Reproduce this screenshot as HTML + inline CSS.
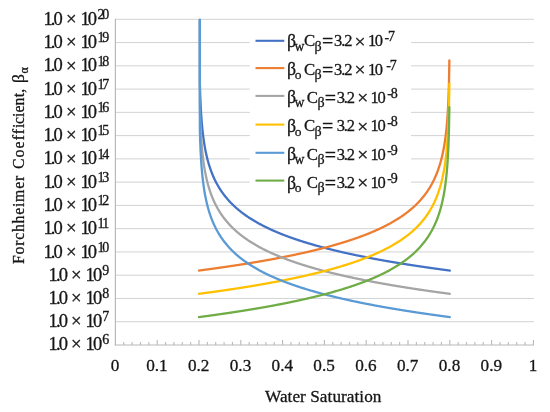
<!DOCTYPE html>
<html lang="en"><head><meta charset="utf-8"><title>Forchheimer Coefficient vs Water Saturation</title>
<style>html,body{margin:0;padding:0;background:#fff;}body{width:550px;height:412px;overflow:hidden;}svg{display:block;filter:blur(0.35px);}text{font-family:"Liberation Serif", "DejaVu Serif", serif;fill:#161616;stroke:#161616;stroke-width:0.3px;}.t{stroke-width:0.3px;}</style>
</head><body>
<svg width="550" height="412" viewBox="0 0 550 412">
<rect width="550" height="412" fill="#ffffff"/>
<g stroke="#d3d3d3" stroke-width="1" fill="none">
<line x1="115.40" y1="19.30" x2="533.90" y2="19.30"/>
<line x1="115.40" y1="42.56" x2="533.90" y2="42.56"/>
<line x1="115.40" y1="65.83" x2="533.90" y2="65.83"/>
<line x1="115.40" y1="89.09" x2="533.90" y2="89.09"/>
<line x1="115.40" y1="112.36" x2="533.90" y2="112.36"/>
<line x1="115.40" y1="135.62" x2="533.90" y2="135.62"/>
<line x1="115.40" y1="158.88" x2="533.90" y2="158.88"/>
<line x1="115.40" y1="182.15" x2="533.90" y2="182.15"/>
<line x1="115.40" y1="205.41" x2="533.90" y2="205.41"/>
<line x1="115.40" y1="228.68" x2="533.90" y2="228.68"/>
<line x1="115.40" y1="251.94" x2="533.90" y2="251.94"/>
<line x1="115.40" y1="275.20" x2="533.90" y2="275.20"/>
<line x1="115.40" y1="298.47" x2="533.90" y2="298.47"/>
<line x1="115.40" y1="321.73" x2="533.90" y2="321.73"/>
</g>
<g stroke="#b9b9b9" stroke-width="1.2" fill="none">
<line x1="115.40" y1="18.80" x2="115.40" y2="345.60"/>
<line x1="114.80" y1="345.00" x2="534.00" y2="345.00"/>
<path stroke-width="1.1" d="M123.76 345.00v-3.0M132.12 345.00v-3.0M140.48 345.00v-3.0M148.84 345.00v-3.0M157.20 345.00v-5.1M165.56 345.00v-3.0M173.92 345.00v-3.0M182.28 345.00v-3.0M190.64 345.00v-3.0M199.00 345.00v-5.1M207.36 345.00v-3.0M215.72 345.00v-3.0M224.08 345.00v-3.0M232.44 345.00v-3.0M240.80 345.00v-5.1M249.16 345.00v-3.0M257.52 345.00v-3.0M265.88 345.00v-3.0M274.24 345.00v-3.0M282.60 345.00v-5.1M290.96 345.00v-3.0M299.32 345.00v-3.0M307.68 345.00v-3.0M316.04 345.00v-3.0M324.40 345.00v-5.1M332.76 345.00v-3.0M341.12 345.00v-3.0M349.48 345.00v-3.0M357.84 345.00v-3.0M366.20 345.00v-5.1M374.56 345.00v-3.0M382.92 345.00v-3.0M391.28 345.00v-3.0M399.64 345.00v-3.0M408.00 345.00v-5.1M416.36 345.00v-3.0M424.72 345.00v-3.0M433.08 345.00v-3.0M441.44 345.00v-3.0M449.80 345.00v-5.1M458.16 345.00v-3.0M466.52 345.00v-3.0M474.88 345.00v-3.0M483.24 345.00v-3.0M491.60 345.00v-5.1M499.96 345.00v-3.0M508.32 345.00v-3.0M516.68 345.00v-3.0M525.04 345.00v-3.0M533.40 345.00v-5.1"/>
</g>
<g fill="none" stroke-width="2.3" stroke-linecap="round" stroke-linejoin="round">
<path stroke="#4472c4" d="M199.85 19.80 L199.85 60.50 L199.85 83.26 L200.25 96.57 L200.67 106.02 L201.09 113.35 L201.51 119.34 L201.93 124.40 L202.34 128.78 L202.76 132.65 L203.18 136.11 L203.60 139.24 L204.02 142.10 L204.43 144.72 L204.85 147.16 L205.27 149.42 L205.69 151.54 L206.11 153.53 L206.52 155.41 L206.94 157.18 L207.36 158.87 L207.78 160.47 L208.20 162.00 L208.61 163.46 L209.03 164.86 L209.45 166.20 L209.87 167.48 L210.29 168.72 L210.70 169.92 L211.12 171.07 L211.54 172.18 L211.96 173.26 L212.38 174.30 L212.79 175.31 L213.21 176.29 L213.63 177.24 L214.05 178.17 L214.47 179.07 L214.88 179.95 L215.30 180.80 L215.72 181.63 L216.14 182.44 L216.56 183.23 L216.97 184.00 L217.39 184.76 L217.81 185.50 L218.23 186.22 L218.65 186.92 L219.06 187.62 L219.48 188.29 L219.90 188.96 L220.32 189.61 L220.74 190.24 L221.15 190.87 L221.57 191.48 L221.99 192.09 L222.41 192.68 L222.83 193.26 L223.24 193.83 L223.66 194.39 L224.08 194.94 L224.50 195.49 L224.92 196.02 L225.33 196.55 L225.75 197.06 L226.17 197.57 L226.59 198.07 L227.01 198.57 L227.42 199.05 L227.84 199.53 L228.26 200.00 L228.68 200.47 L229.10 200.93 L229.51 201.38 L229.93 201.83 L230.35 202.27 L230.77 202.71 L231.19 203.13 L231.60 203.56 L232.02 203.98 L232.44 204.39 L232.86 204.80 L233.28 205.20 L233.69 205.60 L234.11 205.99 L234.53 206.38 L234.95 206.76 L235.37 207.14 L235.78 207.52 L236.20 207.89 L236.62 208.26 L237.04 208.62 L237.46 208.98 L237.87 209.33 L238.29 209.68 L238.71 210.03 L239.13 210.38 L239.55 210.72 L239.96 211.05 L240.38 211.39 L240.80 211.72 L241.22 212.04 L241.64 212.37 L242.05 212.69 L242.47 213.00 L242.89 213.32 L243.31 213.63 L243.73 213.94 L244.14 214.24 L244.56 214.55 L244.98 214.85 L245.40 215.14 L245.82 215.44 L246.23 215.73 L246.65 216.02 L247.07 216.31 L247.49 216.59 L247.91 216.87 L248.32 217.15 L248.74 217.43 L249.16 217.70 L249.58 217.98 L250.00 218.25 L250.41 218.51 L250.83 218.78 L251.25 219.04 L251.67 219.31 L252.09 219.57 L252.50 219.82 L252.92 220.08 L253.34 220.33 L253.76 220.58 L254.18 220.83 L254.59 221.08 L255.01 221.33 L255.43 221.57 L255.85 221.81 L256.27 222.05 L256.68 222.29 L257.10 222.53 L257.52 222.77 L257.94 223.00 L258.36 223.23 L258.77 223.46 L259.19 223.69 L259.61 223.92 L260.03 224.14 L260.45 224.37 L260.86 224.59 L261.28 224.81 L261.70 225.03 L262.12 225.25 L262.54 225.47 L262.95 225.68 L263.37 225.89 L263.79 226.11 L264.21 226.32 L264.63 226.53 L265.04 226.74 L265.46 226.94 L265.88 227.15 L266.30 227.35 L266.72 227.56 L267.13 227.76 L267.55 227.96 L267.97 228.16 L268.39 228.36 L268.81 228.56 L269.22 228.75 L269.64 228.95 L270.06 229.14 L270.48 229.33 L270.90 229.52 L271.31 229.71 L271.73 229.90 L272.15 230.09 L272.57 230.28 L272.99 230.47 L273.40 230.65 L273.82 230.83 L274.24 231.02 L274.66 231.20 L275.08 231.38 L275.49 231.56 L275.91 231.74 L276.33 231.92 L276.75 232.09 L277.17 232.27 L277.58 232.45 L278.00 232.62 L278.42 232.79 L278.84 232.97 L279.26 233.14 L279.67 233.31 L280.09 233.48 L280.51 233.65 L280.93 233.81 L281.35 233.98 L281.76 234.15 L282.18 234.31 L282.60 234.48 L283.02 234.64 L283.44 234.80 L283.85 234.97 L284.27 235.13 L284.69 235.29 L285.11 235.45 L285.53 235.61 L285.94 235.76 L286.36 235.92 L286.78 236.08 L287.20 236.24 L287.62 236.39 L288.03 236.54 L288.45 236.70 L288.87 236.85 L289.29 237.00 L289.71 237.16 L290.12 237.31 L290.54 237.46 L290.96 237.61 L291.38 237.76 L291.80 237.90 L292.21 238.05 L292.63 238.20 L293.05 238.34 L293.47 238.49 L293.89 238.64 L294.30 238.78 L294.72 238.92 L295.14 239.07 L295.56 239.21 L295.98 239.35 L296.39 239.49 L296.81 239.63 L297.23 239.77 L297.65 239.91 L298.07 240.05 L298.48 240.19 L298.90 240.33 L299.32 240.46 L299.74 240.60 L300.16 240.74 L300.57 240.87 L300.99 241.01 L301.41 241.14 L301.83 241.27 L302.25 241.41 L302.66 241.54 L303.08 241.67 L303.50 241.80 L303.92 241.94 L304.34 242.07 L304.75 242.20 L305.17 242.33 L305.59 242.45 L306.01 242.58 L306.43 242.71 L306.84 242.84 L307.26 242.97 L307.68 243.09 L308.10 243.22 L308.52 243.34 L308.93 243.47 L309.35 243.59 L309.77 243.72 L310.19 243.84 L310.61 243.96 L311.02 244.09 L311.44 244.21 L311.86 244.33 L312.28 244.45 L312.70 244.57 L313.11 244.69 L313.53 244.81 L313.95 244.93 L314.37 245.05 L314.79 245.17 L315.20 245.29 L315.62 245.41 L316.04 245.53 L316.46 245.64 L316.88 245.76 L317.29 245.88 L317.71 245.99 L318.13 246.11 L318.55 246.22 L318.97 246.34 L319.38 246.45 L319.80 246.56 L320.22 246.68 L320.64 246.79 L321.06 246.90 L321.47 247.02 L321.89 247.13 L322.31 247.24 L322.73 247.35 L323.15 247.46 L323.56 247.57 L323.98 247.68 L324.40 247.79 L324.82 247.90 L325.24 248.01 L325.65 248.12 L326.07 248.23 L326.49 248.33 L326.91 248.44 L327.33 248.55 L327.74 248.66 L328.16 248.76 L328.58 248.87 L329.00 248.97 L329.42 249.08 L329.83 249.18 L330.25 249.29 L330.67 249.39 L331.09 249.50 L331.51 249.60 L331.92 249.70 L332.34 249.81 L332.76 249.91 L333.18 250.01 L333.60 250.11 L334.01 250.22 L334.43 250.32 L334.85 250.42 L335.27 250.52 L335.69 250.62 L336.10 250.72 L336.52 250.82 L336.94 250.92 L337.36 251.02 L337.78 251.12 L338.19 251.22 L338.61 251.32 L339.03 251.41 L339.45 251.51 L339.87 251.61 L340.28 251.71 L340.70 251.80 L341.12 251.90 L341.54 252.00 L341.96 252.09 L342.37 252.19 L342.79 252.28 L343.21 252.38 L343.63 252.48 L344.05 252.57 L344.46 252.66 L344.88 252.76 L345.30 252.85 L345.72 252.95 L346.14 253.04 L346.55 253.13 L346.97 253.23 L347.39 253.32 L347.81 253.41 L348.23 253.50 L348.64 253.59 L349.06 253.69 L349.48 253.78 L349.90 253.87 L350.32 253.96 L350.73 254.05 L351.15 254.14 L351.57 254.23 L351.99 254.32 L352.41 254.41 L352.82 254.50 L353.24 254.59 L353.66 254.68 L354.08 254.77 L354.50 254.85 L354.91 254.94 L355.33 255.03 L355.75 255.12 L356.17 255.21 L356.59 255.29 L357.00 255.38 L357.42 255.47 L357.84 255.55 L358.26 255.64 L358.68 255.73 L359.09 255.81 L359.51 255.90 L359.93 255.98 L360.35 256.07 L360.77 256.15 L361.18 256.24 L361.60 256.32 L362.02 256.41 L362.44 256.49 L362.86 256.57 L363.27 256.66 L363.69 256.74 L364.11 256.82 L364.53 256.91 L364.95 256.99 L365.36 257.07 L365.78 257.16 L366.20 257.24 L366.62 257.32 L367.04 257.40 L367.45 257.48 L367.87 257.56 L368.29 257.65 L368.71 257.73 L369.13 257.81 L369.54 257.89 L369.96 257.97 L370.38 258.05 L370.80 258.13 L371.22 258.21 L371.63 258.29 L372.05 258.37 L372.47 258.45 L372.89 258.53 L373.31 258.60 L373.72 258.68 L374.14 258.76 L374.56 258.84 L374.98 258.92 L375.40 259.00 L375.81 259.07 L376.23 259.15 L376.65 259.23 L377.07 259.31 L377.49 259.38 L377.90 259.46 L378.32 259.54 L378.74 259.61 L379.16 259.69 L379.58 259.76 L379.99 259.84 L380.41 259.92 L380.83 259.99 L381.25 260.07 L381.67 260.14 L382.08 260.22 L382.50 260.29 L382.92 260.37 L383.34 260.44 L383.76 260.52 L384.17 260.59 L384.59 260.66 L385.01 260.74 L385.43 260.81 L385.85 260.89 L386.26 260.96 L386.68 261.03 L387.10 261.10 L387.52 261.18 L387.94 261.25 L388.35 261.32 L388.77 261.40 L389.19 261.47 L389.61 261.54 L390.03 261.61 L390.44 261.68 L390.86 261.76 L391.28 261.83 L391.70 261.90 L392.12 261.97 L392.53 262.04 L392.95 262.11 L393.37 262.18 L393.79 262.25 L394.21 262.32 L394.62 262.39 L395.04 262.46 L395.46 262.53 L395.88 262.60 L396.30 262.67 L396.71 262.74 L397.13 262.81 L397.55 262.88 L397.97 262.95 L398.39 263.02 L398.80 263.09 L399.22 263.16 L399.64 263.22 L400.06 263.29 L400.48 263.36 L400.89 263.43 L401.31 263.50 L401.73 263.56 L402.15 263.63 L402.57 263.70 L402.98 263.77 L403.40 263.83 L403.82 263.90 L404.24 263.97 L404.66 264.03 L405.07 264.10 L405.49 264.17 L405.91 264.23 L406.33 264.30 L406.75 264.37 L407.16 264.43 L407.58 264.50 L408.00 264.56 L408.42 264.63 L408.84 264.70 L409.25 264.76 L409.67 264.83 L410.09 264.89 L410.51 264.96 L410.93 265.02 L411.34 265.09 L411.76 265.15 L412.18 265.21 L412.60 265.28 L413.02 265.34 L413.43 265.41 L413.85 265.47 L414.27 265.54 L414.69 265.60 L415.11 265.66 L415.52 265.73 L415.94 265.79 L416.36 265.85 L416.78 265.92 L417.20 265.98 L417.61 266.04 L418.03 266.10 L418.45 266.17 L418.87 266.23 L419.29 266.29 L419.70 266.35 L420.12 266.42 L420.54 266.48 L420.96 266.54 L421.38 266.60 L421.79 266.66 L422.21 266.72 L422.63 266.79 L423.05 266.85 L423.47 266.91 L423.88 266.97 L424.30 267.03 L424.72 267.09 L425.14 267.15 L425.56 267.21 L425.97 267.27 L426.39 267.33 L426.81 267.39 L427.23 267.45 L427.65 267.51 L428.06 267.57 L428.48 267.63 L428.90 267.69 L429.32 267.75 L429.74 267.81 L430.15 267.87 L430.57 267.93 L430.99 267.99 L431.41 268.05 L431.83 268.11 L432.24 268.17 L432.66 268.23 L433.08 268.29 L433.50 268.34 L433.92 268.40 L434.33 268.46 L434.75 268.52 L435.17 268.58 L435.59 268.64 L436.01 268.69 L436.42 268.75 L436.84 268.81 L437.26 268.87 L437.68 268.92 L438.10 268.98 L438.51 269.04 L438.93 269.10 L439.35 269.15 L439.77 269.21 L440.19 269.27 L440.60 269.32 L441.02 269.38 L441.44 269.44 L441.86 269.49 L442.28 269.55 L442.69 269.61 L443.11 269.66 L443.53 269.72 L443.95 269.78 L444.37 269.83 L444.78 269.89 L445.20 269.94 L445.62 270.00 L446.04 270.05 L446.46 270.11 L446.87 270.17 L447.29 270.22 L447.71 270.28 L448.13 270.33 L448.55 270.39 L448.96 270.44 L449.38 270.50 L449.80 270.55"/>
<path stroke="#ed7d31" d="M199.00 270.55 L199.42 270.50 L199.84 270.44 L200.25 270.39 L200.67 270.33 L201.09 270.28 L201.51 270.22 L201.93 270.17 L202.34 270.11 L202.76 270.05 L203.18 270.00 L203.60 269.94 L204.02 269.89 L204.43 269.83 L204.85 269.78 L205.27 269.72 L205.69 269.66 L206.11 269.61 L206.52 269.55 L206.94 269.49 L207.36 269.44 L207.78 269.38 L208.20 269.32 L208.61 269.27 L209.03 269.21 L209.45 269.15 L209.87 269.10 L210.29 269.04 L210.70 268.98 L211.12 268.92 L211.54 268.87 L211.96 268.81 L212.38 268.75 L212.79 268.69 L213.21 268.64 L213.63 268.58 L214.05 268.52 L214.47 268.46 L214.88 268.40 L215.30 268.34 L215.72 268.29 L216.14 268.23 L216.56 268.17 L216.97 268.11 L217.39 268.05 L217.81 267.99 L218.23 267.93 L218.65 267.87 L219.06 267.81 L219.48 267.75 L219.90 267.69 L220.32 267.63 L220.74 267.57 L221.15 267.51 L221.57 267.45 L221.99 267.39 L222.41 267.33 L222.83 267.27 L223.24 267.21 L223.66 267.15 L224.08 267.09 L224.50 267.03 L224.92 266.97 L225.33 266.91 L225.75 266.85 L226.17 266.79 L226.59 266.72 L227.01 266.66 L227.42 266.60 L227.84 266.54 L228.26 266.48 L228.68 266.42 L229.10 266.35 L229.51 266.29 L229.93 266.23 L230.35 266.17 L230.77 266.10 L231.19 266.04 L231.60 265.98 L232.02 265.92 L232.44 265.85 L232.86 265.79 L233.28 265.73 L233.69 265.66 L234.11 265.60 L234.53 265.54 L234.95 265.47 L235.37 265.41 L235.78 265.34 L236.20 265.28 L236.62 265.21 L237.04 265.15 L237.46 265.09 L237.87 265.02 L238.29 264.96 L238.71 264.89 L239.13 264.83 L239.55 264.76 L239.96 264.70 L240.38 264.63 L240.80 264.56 L241.22 264.50 L241.64 264.43 L242.05 264.37 L242.47 264.30 L242.89 264.23 L243.31 264.17 L243.73 264.10 L244.14 264.03 L244.56 263.97 L244.98 263.90 L245.40 263.83 L245.82 263.77 L246.23 263.70 L246.65 263.63 L247.07 263.56 L247.49 263.50 L247.91 263.43 L248.32 263.36 L248.74 263.29 L249.16 263.22 L249.58 263.16 L250.00 263.09 L250.41 263.02 L250.83 262.95 L251.25 262.88 L251.67 262.81 L252.09 262.74 L252.50 262.67 L252.92 262.60 L253.34 262.53 L253.76 262.46 L254.18 262.39 L254.59 262.32 L255.01 262.25 L255.43 262.18 L255.85 262.11 L256.27 262.04 L256.68 261.97 L257.10 261.90 L257.52 261.83 L257.94 261.76 L258.36 261.68 L258.77 261.61 L259.19 261.54 L259.61 261.47 L260.03 261.40 L260.45 261.32 L260.86 261.25 L261.28 261.18 L261.70 261.10 L262.12 261.03 L262.54 260.96 L262.95 260.89 L263.37 260.81 L263.79 260.74 L264.21 260.66 L264.63 260.59 L265.04 260.52 L265.46 260.44 L265.88 260.37 L266.30 260.29 L266.72 260.22 L267.13 260.14 L267.55 260.07 L267.97 259.99 L268.39 259.92 L268.81 259.84 L269.22 259.76 L269.64 259.69 L270.06 259.61 L270.48 259.54 L270.90 259.46 L271.31 259.38 L271.73 259.31 L272.15 259.23 L272.57 259.15 L272.99 259.07 L273.40 259.00 L273.82 258.92 L274.24 258.84 L274.66 258.76 L275.08 258.68 L275.49 258.60 L275.91 258.53 L276.33 258.45 L276.75 258.37 L277.17 258.29 L277.58 258.21 L278.00 258.13 L278.42 258.05 L278.84 257.97 L279.26 257.89 L279.67 257.81 L280.09 257.73 L280.51 257.65 L280.93 257.56 L281.35 257.48 L281.76 257.40 L282.18 257.32 L282.60 257.24 L283.02 257.16 L283.44 257.07 L283.85 256.99 L284.27 256.91 L284.69 256.82 L285.11 256.74 L285.53 256.66 L285.94 256.57 L286.36 256.49 L286.78 256.41 L287.20 256.32 L287.62 256.24 L288.03 256.15 L288.45 256.07 L288.87 255.98 L289.29 255.90 L289.71 255.81 L290.12 255.73 L290.54 255.64 L290.96 255.55 L291.38 255.47 L291.80 255.38 L292.21 255.29 L292.63 255.21 L293.05 255.12 L293.47 255.03 L293.89 254.94 L294.30 254.85 L294.72 254.77 L295.14 254.68 L295.56 254.59 L295.98 254.50 L296.39 254.41 L296.81 254.32 L297.23 254.23 L297.65 254.14 L298.07 254.05 L298.48 253.96 L298.90 253.87 L299.32 253.78 L299.74 253.69 L300.16 253.59 L300.57 253.50 L300.99 253.41 L301.41 253.32 L301.83 253.23 L302.25 253.13 L302.66 253.04 L303.08 252.95 L303.50 252.85 L303.92 252.76 L304.34 252.66 L304.75 252.57 L305.17 252.48 L305.59 252.38 L306.01 252.28 L306.43 252.19 L306.84 252.09 L307.26 252.00 L307.68 251.90 L308.10 251.80 L308.52 251.71 L308.93 251.61 L309.35 251.51 L309.77 251.41 L310.19 251.32 L310.61 251.22 L311.02 251.12 L311.44 251.02 L311.86 250.92 L312.28 250.82 L312.70 250.72 L313.11 250.62 L313.53 250.52 L313.95 250.42 L314.37 250.32 L314.79 250.22 L315.20 250.11 L315.62 250.01 L316.04 249.91 L316.46 249.81 L316.88 249.70 L317.29 249.60 L317.71 249.50 L318.13 249.39 L318.55 249.29 L318.97 249.18 L319.38 249.08 L319.80 248.97 L320.22 248.87 L320.64 248.76 L321.06 248.66 L321.47 248.55 L321.89 248.44 L322.31 248.33 L322.73 248.23 L323.15 248.12 L323.56 248.01 L323.98 247.90 L324.40 247.79 L324.82 247.68 L325.24 247.57 L325.65 247.46 L326.07 247.35 L326.49 247.24 L326.91 247.13 L327.33 247.02 L327.74 246.90 L328.16 246.79 L328.58 246.68 L329.00 246.56 L329.42 246.45 L329.83 246.34 L330.25 246.22 L330.67 246.11 L331.09 245.99 L331.51 245.88 L331.92 245.76 L332.34 245.64 L332.76 245.53 L333.18 245.41 L333.60 245.29 L334.01 245.17 L334.43 245.05 L334.85 244.93 L335.27 244.81 L335.69 244.69 L336.10 244.57 L336.52 244.45 L336.94 244.33 L337.36 244.21 L337.78 244.09 L338.19 243.96 L338.61 243.84 L339.03 243.72 L339.45 243.59 L339.87 243.47 L340.28 243.34 L340.70 243.22 L341.12 243.09 L341.54 242.97 L341.96 242.84 L342.37 242.71 L342.79 242.58 L343.21 242.45 L343.63 242.33 L344.05 242.20 L344.46 242.07 L344.88 241.94 L345.30 241.80 L345.72 241.67 L346.14 241.54 L346.55 241.41 L346.97 241.27 L347.39 241.14 L347.81 241.01 L348.23 240.87 L348.64 240.74 L349.06 240.60 L349.48 240.46 L349.90 240.33 L350.32 240.19 L350.73 240.05 L351.15 239.91 L351.57 239.77 L351.99 239.63 L352.41 239.49 L352.82 239.35 L353.24 239.21 L353.66 239.07 L354.08 238.92 L354.50 238.78 L354.91 238.64 L355.33 238.49 L355.75 238.34 L356.17 238.20 L356.59 238.05 L357.00 237.90 L357.42 237.76 L357.84 237.61 L358.26 237.46 L358.68 237.31 L359.09 237.16 L359.51 237.00 L359.93 236.85 L360.35 236.70 L360.77 236.54 L361.18 236.39 L361.60 236.24 L362.02 236.08 L362.44 235.92 L362.86 235.76 L363.27 235.61 L363.69 235.45 L364.11 235.29 L364.53 235.13 L364.95 234.97 L365.36 234.80 L365.78 234.64 L366.20 234.48 L366.62 234.31 L367.04 234.15 L367.45 233.98 L367.87 233.81 L368.29 233.65 L368.71 233.48 L369.13 233.31 L369.54 233.14 L369.96 232.97 L370.38 232.79 L370.80 232.62 L371.22 232.45 L371.63 232.27 L372.05 232.09 L372.47 231.92 L372.89 231.74 L373.31 231.56 L373.72 231.38 L374.14 231.20 L374.56 231.02 L374.98 230.83 L375.40 230.65 L375.81 230.47 L376.23 230.28 L376.65 230.09 L377.07 229.90 L377.49 229.71 L377.90 229.52 L378.32 229.33 L378.74 229.14 L379.16 228.95 L379.58 228.75 L379.99 228.56 L380.41 228.36 L380.83 228.16 L381.25 227.96 L381.67 227.76 L382.08 227.56 L382.50 227.35 L382.92 227.15 L383.34 226.94 L383.76 226.74 L384.17 226.53 L384.59 226.32 L385.01 226.11 L385.43 225.89 L385.85 225.68 L386.26 225.47 L386.68 225.25 L387.10 225.03 L387.52 224.81 L387.94 224.59 L388.35 224.37 L388.77 224.14 L389.19 223.92 L389.61 223.69 L390.03 223.46 L390.44 223.23 L390.86 223.00 L391.28 222.77 L391.70 222.53 L392.12 222.29 L392.53 222.05 L392.95 221.81 L393.37 221.57 L393.79 221.33 L394.21 221.08 L394.62 220.83 L395.04 220.58 L395.46 220.33 L395.88 220.08 L396.30 219.82 L396.71 219.57 L397.13 219.31 L397.55 219.04 L397.97 218.78 L398.39 218.51 L398.80 218.25 L399.22 217.98 L399.64 217.70 L400.06 217.43 L400.48 217.15 L400.89 216.87 L401.31 216.59 L401.73 216.31 L402.15 216.02 L402.57 215.73 L402.98 215.44 L403.40 215.14 L403.82 214.85 L404.24 214.55 L404.66 214.24 L405.07 213.94 L405.49 213.63 L405.91 213.32 L406.33 213.00 L406.75 212.69 L407.16 212.37 L407.58 212.04 L408.00 211.72 L408.42 211.39 L408.84 211.05 L409.25 210.72 L409.67 210.38 L410.09 210.03 L410.51 209.68 L410.93 209.33 L411.34 208.98 L411.76 208.62 L412.18 208.26 L412.60 207.89 L413.02 207.52 L413.43 207.14 L413.85 206.76 L414.27 206.38 L414.69 205.99 L415.11 205.60 L415.52 205.20 L415.94 204.80 L416.36 204.39 L416.78 203.98 L417.20 203.56 L417.61 203.13 L418.03 202.71 L418.45 202.27 L418.87 201.83 L419.29 201.38 L419.70 200.93 L420.12 200.47 L420.54 200.00 L420.96 199.53 L421.38 199.05 L421.79 198.57 L422.21 198.07 L422.63 197.57 L423.05 197.06 L423.47 196.55 L423.88 196.02 L424.30 195.49 L424.72 194.94 L425.14 194.39 L425.56 193.83 L425.97 193.26 L426.39 192.68 L426.81 192.09 L427.23 191.48 L427.65 190.87 L428.06 190.24 L428.48 189.61 L428.90 188.96 L429.32 188.29 L429.74 187.62 L430.15 186.92 L430.57 186.22 L430.99 185.50 L431.41 184.76 L431.83 184.00 L432.24 183.23 L432.66 182.44 L433.08 181.63 L433.50 180.80 L433.92 179.95 L434.33 179.07 L434.75 178.17 L435.17 177.24 L435.59 176.29 L436.01 175.31 L436.42 174.30 L436.84 173.26 L437.26 172.18 L437.68 171.07 L438.10 169.92 L438.51 168.72 L438.93 167.48 L439.35 166.20 L439.77 164.86 L440.19 163.46 L440.60 162.00 L441.02 160.47 L441.44 158.87 L441.86 157.18 L442.28 155.41 L442.69 153.53 L443.11 151.54 L443.53 149.42 L443.95 147.16 L444.37 144.72 L444.78 142.10 L445.20 139.24 L445.62 136.11 L446.04 132.65 L446.46 128.78 L446.87 124.40 L447.29 119.34 L447.71 113.35 L448.13 106.02 L448.55 96.57 L448.96 83.26 L449.38 60.50"/>
<path stroke="#a5a5a5" d="M199.85 19.80 L199.85 83.76 L199.85 106.53 L200.25 119.84 L200.67 129.29 L201.09 136.61 L201.51 142.60 L201.93 147.66 L202.34 152.05 L202.76 155.91 L203.18 159.37 L203.60 162.50 L204.02 165.36 L204.43 167.99 L204.85 170.42 L205.27 172.69 L205.69 174.81 L206.11 176.80 L206.52 178.67 L206.94 180.45 L207.36 182.13 L207.78 183.74 L208.20 185.26 L208.61 186.72 L209.03 188.12 L209.45 189.46 L209.87 190.75 L210.29 191.99 L210.70 193.18 L211.12 194.33 L211.54 195.45 L211.96 196.52 L212.38 197.57 L212.79 198.58 L213.21 199.56 L213.63 200.51 L214.05 201.43 L214.47 202.33 L214.88 203.21 L215.30 204.06 L215.72 204.89 L216.14 205.70 L216.56 206.50 L216.97 207.27 L217.39 208.02 L217.81 208.76 L218.23 209.48 L218.65 210.19 L219.06 210.88 L219.48 211.56 L219.90 212.22 L220.32 212.87 L220.74 213.51 L221.15 214.13 L221.57 214.75 L221.99 215.35 L222.41 215.94 L222.83 216.52 L223.24 217.09 L223.66 217.66 L224.08 218.21 L224.50 218.75 L224.92 219.28 L225.33 219.81 L225.75 220.33 L226.17 220.84 L226.59 221.34 L227.01 221.83 L227.42 222.32 L227.84 222.80 L228.26 223.27 L228.68 223.73 L229.10 224.19 L229.51 224.65 L229.93 225.09 L230.35 225.53 L230.77 225.97 L231.19 226.40 L231.60 226.82 L232.02 227.24 L232.44 227.65 L232.86 228.06 L233.28 228.46 L233.69 228.86 L234.11 229.26 L234.53 229.64 L234.95 230.03 L235.37 230.41 L235.78 230.78 L236.20 231.15 L236.62 231.52 L237.04 231.88 L237.46 232.24 L237.87 232.60 L238.29 232.95 L238.71 233.30 L239.13 233.64 L239.55 233.98 L239.96 234.32 L240.38 234.65 L240.80 234.98 L241.22 235.31 L241.64 235.63 L242.05 235.95 L242.47 236.27 L242.89 236.58 L243.31 236.89 L243.73 237.20 L244.14 237.51 L244.56 237.81 L244.98 238.11 L245.40 238.41 L245.82 238.70 L246.23 238.99 L246.65 239.28 L247.07 239.57 L247.49 239.85 L247.91 240.14 L248.32 240.42 L248.74 240.69 L249.16 240.97 L249.58 241.24 L250.00 241.51 L250.41 241.78 L250.83 242.04 L251.25 242.31 L251.67 242.57 L252.09 242.83 L252.50 243.09 L252.92 243.34 L253.34 243.60 L253.76 243.85 L254.18 244.10 L254.59 244.34 L255.01 244.59 L255.43 244.84 L255.85 245.08 L256.27 245.32 L256.68 245.56 L257.10 245.79 L257.52 246.03 L257.94 246.26 L258.36 246.49 L258.77 246.73 L259.19 246.95 L259.61 247.18 L260.03 247.41 L260.45 247.63 L260.86 247.85 L261.28 248.08 L261.70 248.29 L262.12 248.51 L262.54 248.73 L262.95 248.94 L263.37 249.16 L263.79 249.37 L264.21 249.58 L264.63 249.79 L265.04 250.00 L265.46 250.21 L265.88 250.41 L266.30 250.62 L266.72 250.82 L267.13 251.02 L267.55 251.22 L267.97 251.42 L268.39 251.62 L268.81 251.82 L269.22 252.02 L269.64 252.21 L270.06 252.40 L270.48 252.60 L270.90 252.79 L271.31 252.98 L271.73 253.17 L272.15 253.36 L272.57 253.54 L272.99 253.73 L273.40 253.91 L273.82 254.10 L274.24 254.28 L274.66 254.46 L275.08 254.64 L275.49 254.82 L275.91 255.00 L276.33 255.18 L276.75 255.36 L277.17 255.53 L277.58 255.71 L278.00 255.88 L278.42 256.06 L278.84 256.23 L279.26 256.40 L279.67 256.57 L280.09 256.74 L280.51 256.91 L280.93 257.08 L281.35 257.24 L281.76 257.41 L282.18 257.58 L282.60 257.74 L283.02 257.90 L283.44 258.07 L283.85 258.23 L284.27 258.39 L284.69 258.55 L285.11 258.71 L285.53 258.87 L285.94 259.03 L286.36 259.19 L286.78 259.34 L287.20 259.50 L287.62 259.65 L288.03 259.81 L288.45 259.96 L288.87 260.12 L289.29 260.27 L289.71 260.42 L290.12 260.57 L290.54 260.72 L290.96 260.87 L291.38 261.02 L291.80 261.17 L292.21 261.32 L292.63 261.46 L293.05 261.61 L293.47 261.75 L293.89 261.90 L294.30 262.04 L294.72 262.19 L295.14 262.33 L295.56 262.47 L295.98 262.61 L296.39 262.76 L296.81 262.90 L297.23 263.04 L297.65 263.18 L298.07 263.31 L298.48 263.45 L298.90 263.59 L299.32 263.73 L299.74 263.86 L300.16 264.00 L300.57 264.14 L300.99 264.27 L301.41 264.40 L301.83 264.54 L302.25 264.67 L302.66 264.80 L303.08 264.94 L303.50 265.07 L303.92 265.20 L304.34 265.33 L304.75 265.46 L305.17 265.59 L305.59 265.72 L306.01 265.85 L306.43 265.97 L306.84 266.10 L307.26 266.23 L307.68 266.36 L308.10 266.48 L308.52 266.61 L308.93 266.73 L309.35 266.86 L309.77 266.98 L310.19 267.11 L310.61 267.23 L311.02 267.35 L311.44 267.47 L311.86 267.60 L312.28 267.72 L312.70 267.84 L313.11 267.96 L313.53 268.08 L313.95 268.20 L314.37 268.32 L314.79 268.44 L315.20 268.55 L315.62 268.67 L316.04 268.79 L316.46 268.91 L316.88 269.02 L317.29 269.14 L317.71 269.26 L318.13 269.37 L318.55 269.49 L318.97 269.60 L319.38 269.71 L319.80 269.83 L320.22 269.94 L320.64 270.05 L321.06 270.17 L321.47 270.28 L321.89 270.39 L322.31 270.50 L322.73 270.61 L323.15 270.72 L323.56 270.84 L323.98 270.95 L324.40 271.05 L324.82 271.16 L325.24 271.27 L325.65 271.38 L326.07 271.49 L326.49 271.60 L326.91 271.71 L327.33 271.81 L327.74 271.92 L328.16 272.03 L328.58 272.13 L329.00 272.24 L329.42 272.34 L329.83 272.45 L330.25 272.55 L330.67 272.66 L331.09 272.76 L331.51 272.86 L331.92 272.97 L332.34 273.07 L332.76 273.17 L333.18 273.28 L333.60 273.38 L334.01 273.48 L334.43 273.58 L334.85 273.68 L335.27 273.78 L335.69 273.88 L336.10 273.98 L336.52 274.08 L336.94 274.18 L337.36 274.28 L337.78 274.38 L338.19 274.48 L338.61 274.58 L339.03 274.68 L339.45 274.78 L339.87 274.87 L340.28 274.97 L340.70 275.07 L341.12 275.16 L341.54 275.26 L341.96 275.36 L342.37 275.45 L342.79 275.55 L343.21 275.64 L343.63 275.74 L344.05 275.83 L344.46 275.93 L344.88 276.02 L345.30 276.12 L345.72 276.21 L346.14 276.30 L346.55 276.40 L346.97 276.49 L347.39 276.58 L347.81 276.67 L348.23 276.77 L348.64 276.86 L349.06 276.95 L349.48 277.04 L349.90 277.13 L350.32 277.22 L350.73 277.31 L351.15 277.40 L351.57 277.49 L351.99 277.58 L352.41 277.67 L352.82 277.76 L353.24 277.85 L353.66 277.94 L354.08 278.03 L354.50 278.12 L354.91 278.21 L355.33 278.29 L355.75 278.38 L356.17 278.47 L356.59 278.56 L357.00 278.64 L357.42 278.73 L357.84 278.82 L358.26 278.90 L358.68 278.99 L359.09 279.08 L359.51 279.16 L359.93 279.25 L360.35 279.33 L360.77 279.42 L361.18 279.50 L361.60 279.59 L362.02 279.67 L362.44 279.75 L362.86 279.84 L363.27 279.92 L363.69 280.01 L364.11 280.09 L364.53 280.17 L364.95 280.25 L365.36 280.34 L365.78 280.42 L366.20 280.50 L366.62 280.58 L367.04 280.67 L367.45 280.75 L367.87 280.83 L368.29 280.91 L368.71 280.99 L369.13 281.07 L369.54 281.15 L369.96 281.23 L370.38 281.31 L370.80 281.39 L371.22 281.47 L371.63 281.55 L372.05 281.63 L372.47 281.71 L372.89 281.79 L373.31 281.87 L373.72 281.95 L374.14 282.03 L374.56 282.10 L374.98 282.18 L375.40 282.26 L375.81 282.34 L376.23 282.41 L376.65 282.49 L377.07 282.57 L377.49 282.65 L377.90 282.72 L378.32 282.80 L378.74 282.88 L379.16 282.95 L379.58 283.03 L379.99 283.10 L380.41 283.18 L380.83 283.26 L381.25 283.33 L381.67 283.41 L382.08 283.48 L382.50 283.56 L382.92 283.63 L383.34 283.71 L383.76 283.78 L384.17 283.85 L384.59 283.93 L385.01 284.00 L385.43 284.08 L385.85 284.15 L386.26 284.22 L386.68 284.30 L387.10 284.37 L387.52 284.44 L387.94 284.51 L388.35 284.59 L388.77 284.66 L389.19 284.73 L389.61 284.80 L390.03 284.88 L390.44 284.95 L390.86 285.02 L391.28 285.09 L391.70 285.16 L392.12 285.23 L392.53 285.30 L392.95 285.37 L393.37 285.45 L393.79 285.52 L394.21 285.59 L394.62 285.66 L395.04 285.73 L395.46 285.80 L395.88 285.87 L396.30 285.94 L396.71 286.01 L397.13 286.07 L397.55 286.14 L397.97 286.21 L398.39 286.28 L398.80 286.35 L399.22 286.42 L399.64 286.49 L400.06 286.56 L400.48 286.62 L400.89 286.69 L401.31 286.76 L401.73 286.83 L402.15 286.90 L402.57 286.96 L402.98 287.03 L403.40 287.10 L403.82 287.17 L404.24 287.23 L404.66 287.30 L405.07 287.37 L405.49 287.43 L405.91 287.50 L406.33 287.56 L406.75 287.63 L407.16 287.70 L407.58 287.76 L408.00 287.83 L408.42 287.89 L408.84 287.96 L409.25 288.02 L409.67 288.09 L410.09 288.16 L410.51 288.22 L410.93 288.28 L411.34 288.35 L411.76 288.41 L412.18 288.48 L412.60 288.54 L413.02 288.61 L413.43 288.67 L413.85 288.74 L414.27 288.80 L414.69 288.86 L415.11 288.93 L415.52 288.99 L415.94 289.05 L416.36 289.12 L416.78 289.18 L417.20 289.24 L417.61 289.31 L418.03 289.37 L418.45 289.43 L418.87 289.49 L419.29 289.56 L419.70 289.62 L420.12 289.68 L420.54 289.74 L420.96 289.80 L421.38 289.87 L421.79 289.93 L422.21 289.99 L422.63 290.05 L423.05 290.11 L423.47 290.17 L423.88 290.23 L424.30 290.29 L424.72 290.36 L425.14 290.42 L425.56 290.48 L425.97 290.54 L426.39 290.60 L426.81 290.66 L427.23 290.72 L427.65 290.78 L428.06 290.84 L428.48 290.90 L428.90 290.96 L429.32 291.02 L429.74 291.08 L430.15 291.14 L430.57 291.20 L430.99 291.26 L431.41 291.31 L431.83 291.37 L432.24 291.43 L432.66 291.49 L433.08 291.55 L433.50 291.61 L433.92 291.67 L434.33 291.73 L434.75 291.78 L435.17 291.84 L435.59 291.90 L436.01 291.96 L436.42 292.02 L436.84 292.07 L437.26 292.13 L437.68 292.19 L438.10 292.25 L438.51 292.30 L438.93 292.36 L439.35 292.42 L439.77 292.47 L440.19 292.53 L440.60 292.59 L441.02 292.65 L441.44 292.70 L441.86 292.76 L442.28 292.82 L442.69 292.87 L443.11 292.93 L443.53 292.98 L443.95 293.04 L444.37 293.10 L444.78 293.15 L445.20 293.21 L445.62 293.26 L446.04 293.32 L446.46 293.37 L446.87 293.43 L447.29 293.49 L447.71 293.54 L448.13 293.60 L448.55 293.65 L448.96 293.71 L449.38 293.76 L449.80 293.82"/>
<path stroke="#ffc000" d="M199.00 293.82 L199.42 293.76 L199.84 293.71 L200.25 293.65 L200.67 293.60 L201.09 293.54 L201.51 293.49 L201.93 293.43 L202.34 293.37 L202.76 293.32 L203.18 293.26 L203.60 293.21 L204.02 293.15 L204.43 293.10 L204.85 293.04 L205.27 292.98 L205.69 292.93 L206.11 292.87 L206.52 292.82 L206.94 292.76 L207.36 292.70 L207.78 292.65 L208.20 292.59 L208.61 292.53 L209.03 292.47 L209.45 292.42 L209.87 292.36 L210.29 292.30 L210.70 292.25 L211.12 292.19 L211.54 292.13 L211.96 292.07 L212.38 292.02 L212.79 291.96 L213.21 291.90 L213.63 291.84 L214.05 291.78 L214.47 291.73 L214.88 291.67 L215.30 291.61 L215.72 291.55 L216.14 291.49 L216.56 291.43 L216.97 291.37 L217.39 291.31 L217.81 291.26 L218.23 291.20 L218.65 291.14 L219.06 291.08 L219.48 291.02 L219.90 290.96 L220.32 290.90 L220.74 290.84 L221.15 290.78 L221.57 290.72 L221.99 290.66 L222.41 290.60 L222.83 290.54 L223.24 290.48 L223.66 290.42 L224.08 290.36 L224.50 290.29 L224.92 290.23 L225.33 290.17 L225.75 290.11 L226.17 290.05 L226.59 289.99 L227.01 289.93 L227.42 289.87 L227.84 289.80 L228.26 289.74 L228.68 289.68 L229.10 289.62 L229.51 289.56 L229.93 289.49 L230.35 289.43 L230.77 289.37 L231.19 289.31 L231.60 289.24 L232.02 289.18 L232.44 289.12 L232.86 289.05 L233.28 288.99 L233.69 288.93 L234.11 288.86 L234.53 288.80 L234.95 288.74 L235.37 288.67 L235.78 288.61 L236.20 288.54 L236.62 288.48 L237.04 288.41 L237.46 288.35 L237.87 288.28 L238.29 288.22 L238.71 288.16 L239.13 288.09 L239.55 288.02 L239.96 287.96 L240.38 287.89 L240.80 287.83 L241.22 287.76 L241.64 287.70 L242.05 287.63 L242.47 287.56 L242.89 287.50 L243.31 287.43 L243.73 287.37 L244.14 287.30 L244.56 287.23 L244.98 287.17 L245.40 287.10 L245.82 287.03 L246.23 286.96 L246.65 286.90 L247.07 286.83 L247.49 286.76 L247.91 286.69 L248.32 286.62 L248.74 286.56 L249.16 286.49 L249.58 286.42 L250.00 286.35 L250.41 286.28 L250.83 286.21 L251.25 286.14 L251.67 286.07 L252.09 286.01 L252.50 285.94 L252.92 285.87 L253.34 285.80 L253.76 285.73 L254.18 285.66 L254.59 285.59 L255.01 285.52 L255.43 285.45 L255.85 285.37 L256.27 285.30 L256.68 285.23 L257.10 285.16 L257.52 285.09 L257.94 285.02 L258.36 284.95 L258.77 284.88 L259.19 284.80 L259.61 284.73 L260.03 284.66 L260.45 284.59 L260.86 284.51 L261.28 284.44 L261.70 284.37 L262.12 284.30 L262.54 284.22 L262.95 284.15 L263.37 284.08 L263.79 284.00 L264.21 283.93 L264.63 283.85 L265.04 283.78 L265.46 283.71 L265.88 283.63 L266.30 283.56 L266.72 283.48 L267.13 283.41 L267.55 283.33 L267.97 283.26 L268.39 283.18 L268.81 283.10 L269.22 283.03 L269.64 282.95 L270.06 282.88 L270.48 282.80 L270.90 282.72 L271.31 282.65 L271.73 282.57 L272.15 282.49 L272.57 282.41 L272.99 282.34 L273.40 282.26 L273.82 282.18 L274.24 282.10 L274.66 282.03 L275.08 281.95 L275.49 281.87 L275.91 281.79 L276.33 281.71 L276.75 281.63 L277.17 281.55 L277.58 281.47 L278.00 281.39 L278.42 281.31 L278.84 281.23 L279.26 281.15 L279.67 281.07 L280.09 280.99 L280.51 280.91 L280.93 280.83 L281.35 280.75 L281.76 280.67 L282.18 280.58 L282.60 280.50 L283.02 280.42 L283.44 280.34 L283.85 280.25 L284.27 280.17 L284.69 280.09 L285.11 280.01 L285.53 279.92 L285.94 279.84 L286.36 279.75 L286.78 279.67 L287.20 279.59 L287.62 279.50 L288.03 279.42 L288.45 279.33 L288.87 279.25 L289.29 279.16 L289.71 279.08 L290.12 278.99 L290.54 278.90 L290.96 278.82 L291.38 278.73 L291.80 278.64 L292.21 278.56 L292.63 278.47 L293.05 278.38 L293.47 278.29 L293.89 278.21 L294.30 278.12 L294.72 278.03 L295.14 277.94 L295.56 277.85 L295.98 277.76 L296.39 277.67 L296.81 277.58 L297.23 277.49 L297.65 277.40 L298.07 277.31 L298.48 277.22 L298.90 277.13 L299.32 277.04 L299.74 276.95 L300.16 276.86 L300.57 276.77 L300.99 276.67 L301.41 276.58 L301.83 276.49 L302.25 276.40 L302.66 276.30 L303.08 276.21 L303.50 276.12 L303.92 276.02 L304.34 275.93 L304.75 275.83 L305.17 275.74 L305.59 275.64 L306.01 275.55 L306.43 275.45 L306.84 275.36 L307.26 275.26 L307.68 275.16 L308.10 275.07 L308.52 274.97 L308.93 274.87 L309.35 274.78 L309.77 274.68 L310.19 274.58 L310.61 274.48 L311.02 274.38 L311.44 274.28 L311.86 274.18 L312.28 274.08 L312.70 273.98 L313.11 273.88 L313.53 273.78 L313.95 273.68 L314.37 273.58 L314.79 273.48 L315.20 273.38 L315.62 273.28 L316.04 273.17 L316.46 273.07 L316.88 272.97 L317.29 272.86 L317.71 272.76 L318.13 272.66 L318.55 272.55 L318.97 272.45 L319.38 272.34 L319.80 272.24 L320.22 272.13 L320.64 272.03 L321.06 271.92 L321.47 271.81 L321.89 271.71 L322.31 271.60 L322.73 271.49 L323.15 271.38 L323.56 271.27 L323.98 271.16 L324.40 271.05 L324.82 270.95 L325.24 270.84 L325.65 270.72 L326.07 270.61 L326.49 270.50 L326.91 270.39 L327.33 270.28 L327.74 270.17 L328.16 270.05 L328.58 269.94 L329.00 269.83 L329.42 269.71 L329.83 269.60 L330.25 269.49 L330.67 269.37 L331.09 269.26 L331.51 269.14 L331.92 269.02 L332.34 268.91 L332.76 268.79 L333.18 268.67 L333.60 268.55 L334.01 268.44 L334.43 268.32 L334.85 268.20 L335.27 268.08 L335.69 267.96 L336.10 267.84 L336.52 267.72 L336.94 267.60 L337.36 267.47 L337.78 267.35 L338.19 267.23 L338.61 267.11 L339.03 266.98 L339.45 266.86 L339.87 266.73 L340.28 266.61 L340.70 266.48 L341.12 266.36 L341.54 266.23 L341.96 266.10 L342.37 265.97 L342.79 265.85 L343.21 265.72 L343.63 265.59 L344.05 265.46 L344.46 265.33 L344.88 265.20 L345.30 265.07 L345.72 264.94 L346.14 264.80 L346.55 264.67 L346.97 264.54 L347.39 264.40 L347.81 264.27 L348.23 264.14 L348.64 264.00 L349.06 263.86 L349.48 263.73 L349.90 263.59 L350.32 263.45 L350.73 263.31 L351.15 263.18 L351.57 263.04 L351.99 262.90 L352.41 262.76 L352.82 262.61 L353.24 262.47 L353.66 262.33 L354.08 262.19 L354.50 262.04 L354.91 261.90 L355.33 261.75 L355.75 261.61 L356.17 261.46 L356.59 261.32 L357.00 261.17 L357.42 261.02 L357.84 260.87 L358.26 260.72 L358.68 260.57 L359.09 260.42 L359.51 260.27 L359.93 260.12 L360.35 259.96 L360.77 259.81 L361.18 259.65 L361.60 259.50 L362.02 259.34 L362.44 259.19 L362.86 259.03 L363.27 258.87 L363.69 258.71 L364.11 258.55 L364.53 258.39 L364.95 258.23 L365.36 258.07 L365.78 257.90 L366.20 257.74 L366.62 257.58 L367.04 257.41 L367.45 257.24 L367.87 257.08 L368.29 256.91 L368.71 256.74 L369.13 256.57 L369.54 256.40 L369.96 256.23 L370.38 256.06 L370.80 255.88 L371.22 255.71 L371.63 255.53 L372.05 255.36 L372.47 255.18 L372.89 255.00 L373.31 254.82 L373.72 254.64 L374.14 254.46 L374.56 254.28 L374.98 254.10 L375.40 253.91 L375.81 253.73 L376.23 253.54 L376.65 253.36 L377.07 253.17 L377.49 252.98 L377.90 252.79 L378.32 252.60 L378.74 252.40 L379.16 252.21 L379.58 252.02 L379.99 251.82 L380.41 251.62 L380.83 251.42 L381.25 251.22 L381.67 251.02 L382.08 250.82 L382.50 250.62 L382.92 250.41 L383.34 250.21 L383.76 250.00 L384.17 249.79 L384.59 249.58 L385.01 249.37 L385.43 249.16 L385.85 248.94 L386.26 248.73 L386.68 248.51 L387.10 248.29 L387.52 248.08 L387.94 247.85 L388.35 247.63 L388.77 247.41 L389.19 247.18 L389.61 246.95 L390.03 246.73 L390.44 246.49 L390.86 246.26 L391.28 246.03 L391.70 245.79 L392.12 245.56 L392.53 245.32 L392.95 245.08 L393.37 244.84 L393.79 244.59 L394.21 244.34 L394.62 244.10 L395.04 243.85 L395.46 243.60 L395.88 243.34 L396.30 243.09 L396.71 242.83 L397.13 242.57 L397.55 242.31 L397.97 242.04 L398.39 241.78 L398.80 241.51 L399.22 241.24 L399.64 240.97 L400.06 240.69 L400.48 240.42 L400.89 240.14 L401.31 239.85 L401.73 239.57 L402.15 239.28 L402.57 238.99 L402.98 238.70 L403.40 238.41 L403.82 238.11 L404.24 237.81 L404.66 237.51 L405.07 237.20 L405.49 236.89 L405.91 236.58 L406.33 236.27 L406.75 235.95 L407.16 235.63 L407.58 235.31 L408.00 234.98 L408.42 234.65 L408.84 234.32 L409.25 233.98 L409.67 233.64 L410.09 233.30 L410.51 232.95 L410.93 232.60 L411.34 232.24 L411.76 231.88 L412.18 231.52 L412.60 231.15 L413.02 230.78 L413.43 230.41 L413.85 230.03 L414.27 229.64 L414.69 229.26 L415.11 228.86 L415.52 228.46 L415.94 228.06 L416.36 227.65 L416.78 227.24 L417.20 226.82 L417.61 226.40 L418.03 225.97 L418.45 225.53 L418.87 225.09 L419.29 224.65 L419.70 224.19 L420.12 223.73 L420.54 223.27 L420.96 222.80 L421.38 222.32 L421.79 221.83 L422.21 221.34 L422.63 220.84 L423.05 220.33 L423.47 219.81 L423.88 219.28 L424.30 218.75 L424.72 218.21 L425.14 217.66 L425.56 217.09 L425.97 216.52 L426.39 215.94 L426.81 215.35 L427.23 214.75 L427.65 214.13 L428.06 213.51 L428.48 212.87 L428.90 212.22 L429.32 211.56 L429.74 210.88 L430.15 210.19 L430.57 209.48 L430.99 208.76 L431.41 208.02 L431.83 207.27 L432.24 206.50 L432.66 205.70 L433.08 204.89 L433.50 204.06 L433.92 203.21 L434.33 202.33 L434.75 201.43 L435.17 200.51 L435.59 199.56 L436.01 198.58 L436.42 197.57 L436.84 196.52 L437.26 195.45 L437.68 194.33 L438.10 193.18 L438.51 191.99 L438.93 190.75 L439.35 189.46 L439.77 188.12 L440.19 186.72 L440.60 185.26 L441.02 183.74 L441.44 182.13 L441.86 180.45 L442.28 178.67 L442.69 176.80 L443.11 174.81 L443.53 172.69 L443.95 170.42 L444.37 167.99 L444.78 165.36 L445.20 162.50 L445.62 159.37 L446.04 155.91 L446.46 152.05 L446.87 147.66 L447.29 142.60 L447.71 136.61 L448.13 129.29 L448.55 119.84 L448.96 106.53 L449.38 83.76"/>
<path stroke="#5b9bd5" d="M199.85 19.80 L199.85 107.03 L199.85 129.79 L200.25 143.10 L200.67 152.55 L201.09 159.88 L201.51 165.86 L201.93 170.92 L202.34 175.31 L202.76 179.18 L203.18 182.64 L203.60 185.77 L204.02 188.62 L204.43 191.25 L204.85 193.69 L205.27 195.95 L205.69 198.07 L206.11 200.06 L206.52 201.94 L206.94 203.71 L207.36 205.40 L207.78 207.00 L208.20 208.53 L208.61 209.99 L209.03 211.38 L209.45 212.72 L209.87 214.01 L210.29 215.25 L210.70 216.45 L211.12 217.60 L211.54 218.71 L211.96 219.79 L212.38 220.83 L212.79 221.84 L213.21 222.82 L213.63 223.77 L214.05 224.70 L214.47 225.60 L214.88 226.47 L215.30 227.33 L215.72 228.16 L216.14 228.97 L216.56 229.76 L216.97 230.53 L217.39 231.29 L217.81 232.02 L218.23 232.75 L218.65 233.45 L219.06 234.14 L219.48 234.82 L219.90 235.48 L220.32 236.13 L220.74 236.77 L221.15 237.40 L221.57 238.01 L221.99 238.61 L222.41 239.21 L222.83 239.79 L223.24 240.36 L223.66 240.92 L224.08 241.47 L224.50 242.01 L224.92 242.55 L225.33 243.07 L225.75 243.59 L226.17 244.10 L226.59 244.60 L227.01 245.09 L227.42 245.58 L227.84 246.06 L228.26 246.53 L228.68 247.00 L229.10 247.46 L229.51 247.91 L229.93 248.36 L230.35 248.80 L230.77 249.23 L231.19 249.66 L231.60 250.09 L232.02 250.50 L232.44 250.92 L232.86 251.33 L233.28 251.73 L233.69 252.13 L234.11 252.52 L234.53 252.91 L234.95 253.29 L235.37 253.67 L235.78 254.05 L236.20 254.42 L236.62 254.79 L237.04 255.15 L237.46 255.51 L237.87 255.86 L238.29 256.21 L238.71 256.56 L239.13 256.90 L239.55 257.24 L239.96 257.58 L240.38 257.91 L240.80 258.24 L241.22 258.57 L241.64 258.89 L242.05 259.22 L242.47 259.53 L242.89 259.85 L243.31 260.16 L243.73 260.47 L244.14 260.77 L244.56 261.07 L244.98 261.37 L245.40 261.67 L245.82 261.97 L246.23 262.26 L246.65 262.55 L247.07 262.83 L247.49 263.12 L247.91 263.40 L248.32 263.68 L248.74 263.96 L249.16 264.23 L249.58 264.50 L250.00 264.77 L250.41 265.04 L250.83 265.31 L251.25 265.57 L251.67 265.83 L252.09 266.09 L252.50 266.35 L252.92 266.61 L253.34 266.86 L253.76 267.11 L254.18 267.36 L254.59 267.61 L255.01 267.85 L255.43 268.10 L255.85 268.34 L256.27 268.58 L256.68 268.82 L257.10 269.06 L257.52 269.29 L257.94 269.53 L258.36 269.76 L258.77 269.99 L259.19 270.22 L259.61 270.45 L260.03 270.67 L260.45 270.90 L260.86 271.12 L261.28 271.34 L261.70 271.56 L262.12 271.78 L262.54 271.99 L262.95 272.21 L263.37 272.42 L263.79 272.64 L264.21 272.85 L264.63 273.06 L265.04 273.26 L265.46 273.47 L265.88 273.68 L266.30 273.88 L266.72 274.09 L267.13 274.29 L267.55 274.49 L267.97 274.69 L268.39 274.89 L268.81 275.08 L269.22 275.28 L269.64 275.47 L270.06 275.67 L270.48 275.86 L270.90 276.05 L271.31 276.24 L271.73 276.43 L272.15 276.62 L272.57 276.81 L272.99 276.99 L273.40 277.18 L273.82 277.36 L274.24 277.55 L274.66 277.73 L275.08 277.91 L275.49 278.09 L275.91 278.27 L276.33 278.45 L276.75 278.62 L277.17 278.80 L277.58 278.97 L278.00 279.15 L278.42 279.32 L278.84 279.49 L279.26 279.66 L279.67 279.84 L280.09 280.00 L280.51 280.17 L280.93 280.34 L281.35 280.51 L281.76 280.68 L282.18 280.84 L282.60 281.01 L283.02 281.17 L283.44 281.33 L283.85 281.49 L284.27 281.66 L284.69 281.82 L285.11 281.98 L285.53 282.13 L285.94 282.29 L286.36 282.45 L286.78 282.61 L287.20 282.76 L287.62 282.92 L288.03 283.07 L288.45 283.23 L288.87 283.38 L289.29 283.53 L289.71 283.68 L290.12 283.83 L290.54 283.99 L290.96 284.13 L291.38 284.28 L291.80 284.43 L292.21 284.58 L292.63 284.73 L293.05 284.87 L293.47 285.02 L293.89 285.16 L294.30 285.31 L294.72 285.45 L295.14 285.59 L295.56 285.74 L295.98 285.88 L296.39 286.02 L296.81 286.16 L297.23 286.30 L297.65 286.44 L298.07 286.58 L298.48 286.72 L298.90 286.85 L299.32 286.99 L299.74 287.13 L300.16 287.26 L300.57 287.40 L300.99 287.53 L301.41 287.67 L301.83 287.80 L302.25 287.94 L302.66 288.07 L303.08 288.20 L303.50 288.33 L303.92 288.46 L304.34 288.59 L304.75 288.72 L305.17 288.85 L305.59 288.98 L306.01 289.11 L306.43 289.24 L306.84 289.37 L307.26 289.49 L307.68 289.62 L308.10 289.75 L308.52 289.87 L308.93 290.00 L309.35 290.12 L309.77 290.25 L310.19 290.37 L310.61 290.49 L311.02 290.62 L311.44 290.74 L311.86 290.86 L312.28 290.98 L312.70 291.10 L313.11 291.22 L313.53 291.34 L313.95 291.46 L314.37 291.58 L314.79 291.70 L315.20 291.82 L315.62 291.94 L316.04 292.05 L316.46 292.17 L316.88 292.29 L317.29 292.40 L317.71 292.52 L318.13 292.63 L318.55 292.75 L318.97 292.86 L319.38 292.98 L319.80 293.09 L320.22 293.21 L320.64 293.32 L321.06 293.43 L321.47 293.54 L321.89 293.66 L322.31 293.77 L322.73 293.88 L323.15 293.99 L323.56 294.10 L323.98 294.21 L324.40 294.32 L324.82 294.43 L325.24 294.54 L325.65 294.65 L326.07 294.75 L326.49 294.86 L326.91 294.97 L327.33 295.08 L327.74 295.18 L328.16 295.29 L328.58 295.40 L329.00 295.50 L329.42 295.61 L329.83 295.71 L330.25 295.82 L330.67 295.92 L331.09 296.03 L331.51 296.13 L331.92 296.23 L332.34 296.34 L332.76 296.44 L333.18 296.54 L333.60 296.64 L334.01 296.74 L334.43 296.85 L334.85 296.95 L335.27 297.05 L335.69 297.15 L336.10 297.25 L336.52 297.35 L336.94 297.45 L337.36 297.55 L337.78 297.65 L338.19 297.75 L338.61 297.84 L339.03 297.94 L339.45 298.04 L339.87 298.14 L340.28 298.24 L340.70 298.33 L341.12 298.43 L341.54 298.53 L341.96 298.62 L342.37 298.72 L342.79 298.81 L343.21 298.91 L343.63 299.00 L344.05 299.10 L344.46 299.19 L344.88 299.29 L345.30 299.38 L345.72 299.47 L346.14 299.57 L346.55 299.66 L346.97 299.75 L347.39 299.85 L347.81 299.94 L348.23 300.03 L348.64 300.12 L349.06 300.21 L349.48 300.31 L349.90 300.40 L350.32 300.49 L350.73 300.58 L351.15 300.67 L351.57 300.76 L351.99 300.85 L352.41 300.94 L352.82 301.03 L353.24 301.12 L353.66 301.21 L354.08 301.29 L354.50 301.38 L354.91 301.47 L355.33 301.56 L355.75 301.65 L356.17 301.73 L356.59 301.82 L357.00 301.91 L357.42 301.99 L357.84 302.08 L358.26 302.17 L358.68 302.25 L359.09 302.34 L359.51 302.42 L359.93 302.51 L360.35 302.60 L360.77 302.68 L361.18 302.77 L361.60 302.85 L362.02 302.93 L362.44 303.02 L362.86 303.10 L363.27 303.19 L363.69 303.27 L364.11 303.35 L364.53 303.44 L364.95 303.52 L365.36 303.60 L365.78 303.68 L366.20 303.77 L366.62 303.85 L367.04 303.93 L367.45 304.01 L367.87 304.09 L368.29 304.17 L368.71 304.25 L369.13 304.33 L369.54 304.42 L369.96 304.50 L370.38 304.58 L370.80 304.66 L371.22 304.74 L371.63 304.82 L372.05 304.89 L372.47 304.97 L372.89 305.05 L373.31 305.13 L373.72 305.21 L374.14 305.29 L374.56 305.37 L374.98 305.45 L375.40 305.52 L375.81 305.60 L376.23 305.68 L376.65 305.76 L377.07 305.83 L377.49 305.91 L377.90 305.99 L378.32 306.06 L378.74 306.14 L379.16 306.22 L379.58 306.29 L379.99 306.37 L380.41 306.44 L380.83 306.52 L381.25 306.60 L381.67 306.67 L382.08 306.75 L382.50 306.82 L382.92 306.89 L383.34 306.97 L383.76 307.04 L384.17 307.12 L384.59 307.19 L385.01 307.27 L385.43 307.34 L385.85 307.41 L386.26 307.49 L386.68 307.56 L387.10 307.63 L387.52 307.71 L387.94 307.78 L388.35 307.85 L388.77 307.92 L389.19 308.00 L389.61 308.07 L390.03 308.14 L390.44 308.21 L390.86 308.28 L391.28 308.35 L391.70 308.43 L392.12 308.50 L392.53 308.57 L392.95 308.64 L393.37 308.71 L393.79 308.78 L394.21 308.85 L394.62 308.92 L395.04 308.99 L395.46 309.06 L395.88 309.13 L396.30 309.20 L396.71 309.27 L397.13 309.34 L397.55 309.41 L397.97 309.48 L398.39 309.55 L398.80 309.61 L399.22 309.68 L399.64 309.75 L400.06 309.82 L400.48 309.89 L400.89 309.96 L401.31 310.02 L401.73 310.09 L402.15 310.16 L402.57 310.23 L402.98 310.29 L403.40 310.36 L403.82 310.43 L404.24 310.50 L404.66 310.56 L405.07 310.63 L405.49 310.70 L405.91 310.76 L406.33 310.83 L406.75 310.89 L407.16 310.96 L407.58 311.03 L408.00 311.09 L408.42 311.16 L408.84 311.22 L409.25 311.29 L409.67 311.35 L410.09 311.42 L410.51 311.48 L410.93 311.55 L411.34 311.61 L411.76 311.68 L412.18 311.74 L412.60 311.81 L413.02 311.87 L413.43 311.94 L413.85 312.00 L414.27 312.06 L414.69 312.13 L415.11 312.19 L415.52 312.25 L415.94 312.32 L416.36 312.38 L416.78 312.44 L417.20 312.51 L417.61 312.57 L418.03 312.63 L418.45 312.69 L418.87 312.76 L419.29 312.82 L419.70 312.88 L420.12 312.94 L420.54 313.01 L420.96 313.07 L421.38 313.13 L421.79 313.19 L422.21 313.25 L422.63 313.31 L423.05 313.38 L423.47 313.44 L423.88 313.50 L424.30 313.56 L424.72 313.62 L425.14 313.68 L425.56 313.74 L425.97 313.80 L426.39 313.86 L426.81 313.92 L427.23 313.98 L427.65 314.04 L428.06 314.10 L428.48 314.16 L428.90 314.22 L429.32 314.28 L429.74 314.34 L430.15 314.40 L430.57 314.46 L430.99 314.52 L431.41 314.58 L431.83 314.64 L432.24 314.70 L432.66 314.76 L433.08 314.81 L433.50 314.87 L433.92 314.93 L434.33 314.99 L434.75 315.05 L435.17 315.11 L435.59 315.16 L436.01 315.22 L436.42 315.28 L436.84 315.34 L437.26 315.39 L437.68 315.45 L438.10 315.51 L438.51 315.57 L438.93 315.62 L439.35 315.68 L439.77 315.74 L440.19 315.80 L440.60 315.85 L441.02 315.91 L441.44 315.97 L441.86 316.02 L442.28 316.08 L442.69 316.14 L443.11 316.19 L443.53 316.25 L443.95 316.30 L444.37 316.36 L444.78 316.42 L445.20 316.47 L445.62 316.53 L446.04 316.58 L446.46 316.64 L446.87 316.69 L447.29 316.75 L447.71 316.80 L448.13 316.86 L448.55 316.91 L448.96 316.97 L449.38 317.02 L449.80 317.08"/>
<path stroke="#70ad47" d="M199.00 317.08 L199.42 317.02 L199.84 316.97 L200.25 316.91 L200.67 316.86 L201.09 316.80 L201.51 316.75 L201.93 316.69 L202.34 316.64 L202.76 316.58 L203.18 316.53 L203.60 316.47 L204.02 316.42 L204.43 316.36 L204.85 316.30 L205.27 316.25 L205.69 316.19 L206.11 316.14 L206.52 316.08 L206.94 316.02 L207.36 315.97 L207.78 315.91 L208.20 315.85 L208.61 315.80 L209.03 315.74 L209.45 315.68 L209.87 315.62 L210.29 315.57 L210.70 315.51 L211.12 315.45 L211.54 315.39 L211.96 315.34 L212.38 315.28 L212.79 315.22 L213.21 315.16 L213.63 315.11 L214.05 315.05 L214.47 314.99 L214.88 314.93 L215.30 314.87 L215.72 314.81 L216.14 314.76 L216.56 314.70 L216.97 314.64 L217.39 314.58 L217.81 314.52 L218.23 314.46 L218.65 314.40 L219.06 314.34 L219.48 314.28 L219.90 314.22 L220.32 314.16 L220.74 314.10 L221.15 314.04 L221.57 313.98 L221.99 313.92 L222.41 313.86 L222.83 313.80 L223.24 313.74 L223.66 313.68 L224.08 313.62 L224.50 313.56 L224.92 313.50 L225.33 313.44 L225.75 313.38 L226.17 313.31 L226.59 313.25 L227.01 313.19 L227.42 313.13 L227.84 313.07 L228.26 313.01 L228.68 312.94 L229.10 312.88 L229.51 312.82 L229.93 312.76 L230.35 312.69 L230.77 312.63 L231.19 312.57 L231.60 312.51 L232.02 312.44 L232.44 312.38 L232.86 312.32 L233.28 312.25 L233.69 312.19 L234.11 312.13 L234.53 312.06 L234.95 312.00 L235.37 311.94 L235.78 311.87 L236.20 311.81 L236.62 311.74 L237.04 311.68 L237.46 311.61 L237.87 311.55 L238.29 311.48 L238.71 311.42 L239.13 311.35 L239.55 311.29 L239.96 311.22 L240.38 311.16 L240.80 311.09 L241.22 311.03 L241.64 310.96 L242.05 310.89 L242.47 310.83 L242.89 310.76 L243.31 310.70 L243.73 310.63 L244.14 310.56 L244.56 310.50 L244.98 310.43 L245.40 310.36 L245.82 310.29 L246.23 310.23 L246.65 310.16 L247.07 310.09 L247.49 310.02 L247.91 309.96 L248.32 309.89 L248.74 309.82 L249.16 309.75 L249.58 309.68 L250.00 309.61 L250.41 309.55 L250.83 309.48 L251.25 309.41 L251.67 309.34 L252.09 309.27 L252.50 309.20 L252.92 309.13 L253.34 309.06 L253.76 308.99 L254.18 308.92 L254.59 308.85 L255.01 308.78 L255.43 308.71 L255.85 308.64 L256.27 308.57 L256.68 308.50 L257.10 308.43 L257.52 308.35 L257.94 308.28 L258.36 308.21 L258.77 308.14 L259.19 308.07 L259.61 308.00 L260.03 307.92 L260.45 307.85 L260.86 307.78 L261.28 307.71 L261.70 307.63 L262.12 307.56 L262.54 307.49 L262.95 307.41 L263.37 307.34 L263.79 307.27 L264.21 307.19 L264.63 307.12 L265.04 307.04 L265.46 306.97 L265.88 306.89 L266.30 306.82 L266.72 306.75 L267.13 306.67 L267.55 306.60 L267.97 306.52 L268.39 306.44 L268.81 306.37 L269.22 306.29 L269.64 306.22 L270.06 306.14 L270.48 306.06 L270.90 305.99 L271.31 305.91 L271.73 305.83 L272.15 305.76 L272.57 305.68 L272.99 305.60 L273.40 305.52 L273.82 305.45 L274.24 305.37 L274.66 305.29 L275.08 305.21 L275.49 305.13 L275.91 305.05 L276.33 304.97 L276.75 304.89 L277.17 304.82 L277.58 304.74 L278.00 304.66 L278.42 304.58 L278.84 304.50 L279.26 304.42 L279.67 304.33 L280.09 304.25 L280.51 304.17 L280.93 304.09 L281.35 304.01 L281.76 303.93 L282.18 303.85 L282.60 303.77 L283.02 303.68 L283.44 303.60 L283.85 303.52 L284.27 303.44 L284.69 303.35 L285.11 303.27 L285.53 303.19 L285.94 303.10 L286.36 303.02 L286.78 302.93 L287.20 302.85 L287.62 302.77 L288.03 302.68 L288.45 302.60 L288.87 302.51 L289.29 302.42 L289.71 302.34 L290.12 302.25 L290.54 302.17 L290.96 302.08 L291.38 301.99 L291.80 301.91 L292.21 301.82 L292.63 301.73 L293.05 301.65 L293.47 301.56 L293.89 301.47 L294.30 301.38 L294.72 301.29 L295.14 301.21 L295.56 301.12 L295.98 301.03 L296.39 300.94 L296.81 300.85 L297.23 300.76 L297.65 300.67 L298.07 300.58 L298.48 300.49 L298.90 300.40 L299.32 300.31 L299.74 300.21 L300.16 300.12 L300.57 300.03 L300.99 299.94 L301.41 299.85 L301.83 299.75 L302.25 299.66 L302.66 299.57 L303.08 299.47 L303.50 299.38 L303.92 299.29 L304.34 299.19 L304.75 299.10 L305.17 299.00 L305.59 298.91 L306.01 298.81 L306.43 298.72 L306.84 298.62 L307.26 298.53 L307.68 298.43 L308.10 298.33 L308.52 298.24 L308.93 298.14 L309.35 298.04 L309.77 297.94 L310.19 297.84 L310.61 297.75 L311.02 297.65 L311.44 297.55 L311.86 297.45 L312.28 297.35 L312.70 297.25 L313.11 297.15 L313.53 297.05 L313.95 296.95 L314.37 296.85 L314.79 296.74 L315.20 296.64 L315.62 296.54 L316.04 296.44 L316.46 296.34 L316.88 296.23 L317.29 296.13 L317.71 296.03 L318.13 295.92 L318.55 295.82 L318.97 295.71 L319.38 295.61 L319.80 295.50 L320.22 295.40 L320.64 295.29 L321.06 295.18 L321.47 295.08 L321.89 294.97 L322.31 294.86 L322.73 294.75 L323.15 294.65 L323.56 294.54 L323.98 294.43 L324.40 294.32 L324.82 294.21 L325.24 294.10 L325.65 293.99 L326.07 293.88 L326.49 293.77 L326.91 293.66 L327.33 293.54 L327.74 293.43 L328.16 293.32 L328.58 293.21 L329.00 293.09 L329.42 292.98 L329.83 292.86 L330.25 292.75 L330.67 292.63 L331.09 292.52 L331.51 292.40 L331.92 292.29 L332.34 292.17 L332.76 292.05 L333.18 291.94 L333.60 291.82 L334.01 291.70 L334.43 291.58 L334.85 291.46 L335.27 291.34 L335.69 291.22 L336.10 291.10 L336.52 290.98 L336.94 290.86 L337.36 290.74 L337.78 290.62 L338.19 290.49 L338.61 290.37 L339.03 290.25 L339.45 290.12 L339.87 290.00 L340.28 289.87 L340.70 289.75 L341.12 289.62 L341.54 289.49 L341.96 289.37 L342.37 289.24 L342.79 289.11 L343.21 288.98 L343.63 288.85 L344.05 288.72 L344.46 288.59 L344.88 288.46 L345.30 288.33 L345.72 288.20 L346.14 288.07 L346.55 287.94 L346.97 287.80 L347.39 287.67 L347.81 287.53 L348.23 287.40 L348.64 287.26 L349.06 287.13 L349.48 286.99 L349.90 286.85 L350.32 286.72 L350.73 286.58 L351.15 286.44 L351.57 286.30 L351.99 286.16 L352.41 286.02 L352.82 285.88 L353.24 285.74 L353.66 285.59 L354.08 285.45 L354.50 285.31 L354.91 285.16 L355.33 285.02 L355.75 284.87 L356.17 284.73 L356.59 284.58 L357.00 284.43 L357.42 284.28 L357.84 284.13 L358.26 283.99 L358.68 283.83 L359.09 283.68 L359.51 283.53 L359.93 283.38 L360.35 283.23 L360.77 283.07 L361.18 282.92 L361.60 282.76 L362.02 282.61 L362.44 282.45 L362.86 282.29 L363.27 282.13 L363.69 281.98 L364.11 281.82 L364.53 281.66 L364.95 281.49 L365.36 281.33 L365.78 281.17 L366.20 281.01 L366.62 280.84 L367.04 280.68 L367.45 280.51 L367.87 280.34 L368.29 280.17 L368.71 280.00 L369.13 279.84 L369.54 279.66 L369.96 279.49 L370.38 279.32 L370.80 279.15 L371.22 278.97 L371.63 278.80 L372.05 278.62 L372.47 278.45 L372.89 278.27 L373.31 278.09 L373.72 277.91 L374.14 277.73 L374.56 277.55 L374.98 277.36 L375.40 277.18 L375.81 276.99 L376.23 276.81 L376.65 276.62 L377.07 276.43 L377.49 276.24 L377.90 276.05 L378.32 275.86 L378.74 275.67 L379.16 275.47 L379.58 275.28 L379.99 275.08 L380.41 274.89 L380.83 274.69 L381.25 274.49 L381.67 274.29 L382.08 274.09 L382.50 273.88 L382.92 273.68 L383.34 273.47 L383.76 273.26 L384.17 273.06 L384.59 272.85 L385.01 272.64 L385.43 272.42 L385.85 272.21 L386.26 271.99 L386.68 271.78 L387.10 271.56 L387.52 271.34 L387.94 271.12 L388.35 270.90 L388.77 270.67 L389.19 270.45 L389.61 270.22 L390.03 269.99 L390.44 269.76 L390.86 269.53 L391.28 269.29 L391.70 269.06 L392.12 268.82 L392.53 268.58 L392.95 268.34 L393.37 268.10 L393.79 267.85 L394.21 267.61 L394.62 267.36 L395.04 267.11 L395.46 266.86 L395.88 266.61 L396.30 266.35 L396.71 266.09 L397.13 265.83 L397.55 265.57 L397.97 265.31 L398.39 265.04 L398.80 264.77 L399.22 264.50 L399.64 264.23 L400.06 263.96 L400.48 263.68 L400.89 263.40 L401.31 263.12 L401.73 262.83 L402.15 262.55 L402.57 262.26 L402.98 261.97 L403.40 261.67 L403.82 261.37 L404.24 261.07 L404.66 260.77 L405.07 260.47 L405.49 260.16 L405.91 259.85 L406.33 259.53 L406.75 259.22 L407.16 258.89 L407.58 258.57 L408.00 258.24 L408.42 257.91 L408.84 257.58 L409.25 257.24 L409.67 256.90 L410.09 256.56 L410.51 256.21 L410.93 255.86 L411.34 255.51 L411.76 255.15 L412.18 254.79 L412.60 254.42 L413.02 254.05 L413.43 253.67 L413.85 253.29 L414.27 252.91 L414.69 252.52 L415.11 252.13 L415.52 251.73 L415.94 251.33 L416.36 250.92 L416.78 250.50 L417.20 250.09 L417.61 249.66 L418.03 249.23 L418.45 248.80 L418.87 248.36 L419.29 247.91 L419.70 247.46 L420.12 247.00 L420.54 246.53 L420.96 246.06 L421.38 245.58 L421.79 245.09 L422.21 244.60 L422.63 244.10 L423.05 243.59 L423.47 243.07 L423.88 242.55 L424.30 242.01 L424.72 241.47 L425.14 240.92 L425.56 240.36 L425.97 239.79 L426.39 239.21 L426.81 238.61 L427.23 238.01 L427.65 237.40 L428.06 236.77 L428.48 236.13 L428.90 235.48 L429.32 234.82 L429.74 234.14 L430.15 233.45 L430.57 232.75 L430.99 232.02 L431.41 231.29 L431.83 230.53 L432.24 229.76 L432.66 228.97 L433.08 228.16 L433.50 227.33 L433.92 226.47 L434.33 225.60 L434.75 224.70 L435.17 223.77 L435.59 222.82 L436.01 221.84 L436.42 220.83 L436.84 219.79 L437.26 218.71 L437.68 217.60 L438.10 216.45 L438.51 215.25 L438.93 214.01 L439.35 212.72 L439.77 211.38 L440.19 209.99 L440.60 208.53 L441.02 207.00 L441.44 205.40 L441.86 203.71 L442.28 201.94 L442.69 200.06 L443.11 198.07 L443.53 195.95 L443.95 193.69 L444.37 191.25 L444.78 188.62 L445.20 185.77 L445.62 182.64 L446.04 179.18 L446.46 175.31 L446.87 170.92 L447.29 165.86 L447.71 159.88 L448.13 152.55 L448.55 143.10 L448.96 129.79 L449.38 107.03"/>
</g>
<rect x="249.8" y="27" width="161.2" height="168" fill="#ffffff"/>
<g fill="none" stroke-width="2.1">
<line x1="255.5" y1="40.80" x2="284.3" y2="40.80" stroke="#4472c4"/>
<line x1="255.5" y1="68.10" x2="284.3" y2="68.10" stroke="#ed7d31"/>
<line x1="255.5" y1="95.90" x2="284.3" y2="95.90" stroke="#a5a5a5"/>
<line x1="255.5" y1="124.60" x2="284.3" y2="124.60" stroke="#ffc000"/>
<line x1="255.5" y1="152.80" x2="284.3" y2="152.80" stroke="#5b9bd5"/>
<line x1="255.5" y1="180.60" x2="284.3" y2="180.60" stroke="#70ad47"/>
</g>
<text><tspan x="287.00" y="47.20" font-size="17.80">β</tspan><tspan x="294.60" y="50.90" font-size="13.80" textLength="9.90" lengthAdjust="spacingAndGlyphs">w</tspan><tspan> </tspan><tspan x="304.00" y="46.30" font-size="16.80">C</tspan><tspan x="314.60" y="50.50" font-size="14.00">β</tspan><tspan x="322.00" y="48.30" font-size="20.00">=</tspan><tspan x="334.00" y="46.30" font-size="16.50" textLength="18.40" lengthAdjust="spacing">3.2</tspan><tspan> </tspan><tspan x="354.60" y="48.00" font-size="19.50">×</tspan><tspan> </tspan><tspan x="367.90" y="46.30" font-size="16.50" textLength="15.20" lengthAdjust="spacing">10</tspan><tspan x="384.50" y="41.50" font-size="14.00">-</tspan><tspan x="388.00" y="41.30" font-size="14.00">7</tspan></text>
<text><tspan x="287.00" y="75.40" font-size="17.80">β</tspan><tspan x="294.70" y="78.70" font-size="13.50">o</tspan><tspan> </tspan><tspan x="304.00" y="74.50" font-size="16.80">C</tspan><tspan x="314.60" y="78.70" font-size="14.00">β</tspan><tspan x="322.00" y="76.50" font-size="20.00">=</tspan><tspan x="334.00" y="74.50" font-size="16.50" textLength="18.40" lengthAdjust="spacing">3.2</tspan><tspan> </tspan><tspan x="354.60" y="76.20" font-size="19.50">×</tspan><tspan> </tspan><tspan x="367.90" y="74.50" font-size="16.50" textLength="15.20" lengthAdjust="spacing">10</tspan><tspan x="386.30" y="69.70" font-size="14.00">-</tspan><tspan x="389.80" y="69.50" font-size="14.00">7</tspan></text>
<text><tspan x="287.00" y="103.40" font-size="17.80">β</tspan><tspan x="294.60" y="107.10" font-size="13.80" textLength="9.90" lengthAdjust="spacingAndGlyphs">w</tspan><tspan> </tspan><tspan x="306.80" y="102.50" font-size="16.80">C</tspan><tspan x="317.40" y="106.70" font-size="14.00">β</tspan><tspan x="324.80" y="104.50" font-size="20.00">=</tspan><tspan x="336.70" y="102.50" font-size="16.50" textLength="18.40" lengthAdjust="spacing">3.2</tspan><tspan> </tspan><tspan x="357.30" y="104.20" font-size="19.50">×</tspan><tspan> </tspan><tspan x="370.60" y="102.50" font-size="16.50" textLength="15.20" lengthAdjust="spacing">10</tspan><tspan x="387.20" y="97.70" font-size="14.00">-</tspan><tspan x="390.70" y="97.50" font-size="14.00">8</tspan></text>
<text><tspan x="287.00" y="132.30" font-size="17.80">β</tspan><tspan x="294.70" y="135.60" font-size="13.50">o</tspan><tspan> </tspan><tspan x="304.00" y="131.40" font-size="16.80">C</tspan><tspan x="314.60" y="135.60" font-size="14.00">β</tspan><tspan x="322.00" y="133.40" font-size="20.00">=</tspan><tspan x="336.70" y="131.40" font-size="16.50" textLength="18.40" lengthAdjust="spacing">3.2</tspan><tspan> </tspan><tspan x="357.30" y="133.10" font-size="19.50">×</tspan><tspan> </tspan><tspan x="370.60" y="131.40" font-size="16.50" textLength="15.20" lengthAdjust="spacing">10</tspan><tspan x="387.20" y="126.60" font-size="14.00">-</tspan><tspan x="390.70" y="126.40" font-size="14.00">8</tspan></text>
<text><tspan x="287.00" y="160.40" font-size="17.80">β</tspan><tspan x="294.60" y="164.10" font-size="13.80" textLength="9.90" lengthAdjust="spacingAndGlyphs">w</tspan><tspan> </tspan><tspan x="306.80" y="159.50" font-size="16.80">C</tspan><tspan x="317.40" y="163.70" font-size="14.00">β</tspan><tspan x="324.80" y="161.50" font-size="20.00">=</tspan><tspan x="336.70" y="159.50" font-size="16.50" textLength="18.40" lengthAdjust="spacing">3.2</tspan><tspan> </tspan><tspan x="357.30" y="161.20" font-size="19.50">×</tspan><tspan> </tspan><tspan x="370.60" y="159.50" font-size="16.50" textLength="15.20" lengthAdjust="spacing">10</tspan><tspan x="387.20" y="154.70" font-size="14.00">-</tspan><tspan x="390.70" y="154.50" font-size="14.00">9</tspan></text>
<text><tspan x="287.00" y="188.50" font-size="17.80">β</tspan><tspan x="294.70" y="191.80" font-size="13.50">o</tspan><tspan> </tspan><tspan x="306.80" y="187.60" font-size="16.80">C</tspan><tspan x="317.40" y="191.80" font-size="14.00">β</tspan><tspan x="324.80" y="189.60" font-size="20.00">=</tspan><tspan x="336.70" y="187.60" font-size="16.50" textLength="18.40" lengthAdjust="spacing">3.2</tspan><tspan> </tspan><tspan x="357.30" y="189.30" font-size="19.50">×</tspan><tspan> </tspan><tspan x="370.60" y="187.60" font-size="16.50" textLength="15.20" lengthAdjust="spacing">10</tspan><tspan x="387.20" y="182.80" font-size="14.00">-</tspan><tspan x="390.70" y="182.60" font-size="14.00">9</tspan></text>
<text><tspan x="43.50" y="24.90" font-size="18.50" textLength="19.30" lengthAdjust="spacing">1.0</tspan><tspan> </tspan><tspan x="65.90" y="25.00" font-size="18.70">×</tspan><tspan> </tspan><tspan x="80.50" y="24.90" font-size="18.50" textLength="16.60" lengthAdjust="spacing">10</tspan><tspan x="97.40" y="19.00" font-size="14.00" textLength="11.80" lengthAdjust="spacing">20</tspan></text>
<text><tspan x="43.50" y="48.16" font-size="18.50" textLength="19.30" lengthAdjust="spacing">1.0</tspan><tspan> </tspan><tspan x="65.90" y="48.26" font-size="18.70">×</tspan><tspan> </tspan><tspan x="80.50" y="48.16" font-size="18.50" textLength="16.60" lengthAdjust="spacing">10</tspan><tspan x="97.40" y="42.26" font-size="14.00" textLength="11.80" lengthAdjust="spacing">19</tspan></text>
<text><tspan x="43.50" y="71.43" font-size="18.50" textLength="19.30" lengthAdjust="spacing">1.0</tspan><tspan> </tspan><tspan x="65.90" y="71.53" font-size="18.70">×</tspan><tspan> </tspan><tspan x="80.50" y="71.43" font-size="18.50" textLength="16.60" lengthAdjust="spacing">10</tspan><tspan x="97.40" y="65.53" font-size="14.00" textLength="11.80" lengthAdjust="spacing">18</tspan></text>
<text><tspan x="43.50" y="94.69" font-size="18.50" textLength="19.30" lengthAdjust="spacing">1.0</tspan><tspan> </tspan><tspan x="65.90" y="94.79" font-size="18.70">×</tspan><tspan> </tspan><tspan x="80.50" y="94.69" font-size="18.50" textLength="16.60" lengthAdjust="spacing">10</tspan><tspan x="97.40" y="88.79" font-size="14.00" textLength="11.80" lengthAdjust="spacing">17</tspan></text>
<text><tspan x="43.50" y="117.96" font-size="18.50" textLength="19.30" lengthAdjust="spacing">1.0</tspan><tspan> </tspan><tspan x="65.90" y="118.06" font-size="18.70">×</tspan><tspan> </tspan><tspan x="80.50" y="117.96" font-size="18.50" textLength="16.60" lengthAdjust="spacing">10</tspan><tspan x="97.40" y="112.06" font-size="14.00" textLength="11.80" lengthAdjust="spacing">16</tspan></text>
<text><tspan x="43.50" y="141.22" font-size="18.50" textLength="19.30" lengthAdjust="spacing">1.0</tspan><tspan> </tspan><tspan x="65.90" y="141.32" font-size="18.70">×</tspan><tspan> </tspan><tspan x="80.50" y="141.22" font-size="18.50" textLength="16.60" lengthAdjust="spacing">10</tspan><tspan x="97.40" y="135.32" font-size="14.00" textLength="11.80" lengthAdjust="spacing">15</tspan></text>
<text><tspan x="43.50" y="164.48" font-size="18.50" textLength="19.30" lengthAdjust="spacing">1.0</tspan><tspan> </tspan><tspan x="65.90" y="164.58" font-size="18.70">×</tspan><tspan> </tspan><tspan x="80.50" y="164.48" font-size="18.50" textLength="16.60" lengthAdjust="spacing">10</tspan><tspan x="97.40" y="158.58" font-size="14.00" textLength="11.80" lengthAdjust="spacing">14</tspan></text>
<text><tspan x="43.50" y="187.75" font-size="18.50" textLength="19.30" lengthAdjust="spacing">1.0</tspan><tspan> </tspan><tspan x="65.90" y="187.85" font-size="18.70">×</tspan><tspan> </tspan><tspan x="80.50" y="187.75" font-size="18.50" textLength="16.60" lengthAdjust="spacing">10</tspan><tspan x="97.40" y="181.85" font-size="14.00" textLength="11.80" lengthAdjust="spacing">13</tspan></text>
<text><tspan x="43.50" y="211.01" font-size="18.50" textLength="19.30" lengthAdjust="spacing">1.0</tspan><tspan> </tspan><tspan x="65.90" y="211.11" font-size="18.70">×</tspan><tspan> </tspan><tspan x="80.50" y="211.01" font-size="18.50" textLength="16.60" lengthAdjust="spacing">10</tspan><tspan x="97.40" y="205.11" font-size="14.00" textLength="11.80" lengthAdjust="spacing">12</tspan></text>
<text><tspan x="43.50" y="234.28" font-size="18.50" textLength="19.30" lengthAdjust="spacing">1.0</tspan><tspan> </tspan><tspan x="65.90" y="234.38" font-size="18.70">×</tspan><tspan> </tspan><tspan x="80.50" y="234.28" font-size="18.50" textLength="16.60" lengthAdjust="spacing">10</tspan><tspan x="97.40" y="228.38" font-size="14.00" textLength="11.80" lengthAdjust="spacing">11</tspan></text>
<text><tspan x="43.50" y="257.54" font-size="18.50" textLength="19.30" lengthAdjust="spacing">1.0</tspan><tspan> </tspan><tspan x="65.90" y="257.64" font-size="18.70">×</tspan><tspan> </tspan><tspan x="80.50" y="257.54" font-size="18.50" textLength="16.60" lengthAdjust="spacing">10</tspan><tspan x="97.40" y="251.64" font-size="14.00" textLength="11.80" lengthAdjust="spacing">10</tspan></text>
<text><tspan x="48.60" y="280.80" font-size="18.50" textLength="19.30" lengthAdjust="spacing">1.0</tspan><tspan> </tspan><tspan x="71.00" y="280.90" font-size="18.70">×</tspan><tspan> </tspan><tspan x="85.60" y="280.80" font-size="18.50" textLength="16.60" lengthAdjust="spacing">10</tspan><tspan x="102.20" y="274.90" font-size="14.00">9</tspan></text>
<text><tspan x="48.60" y="304.07" font-size="18.50" textLength="19.30" lengthAdjust="spacing">1.0</tspan><tspan> </tspan><tspan x="71.00" y="304.17" font-size="18.70">×</tspan><tspan> </tspan><tspan x="85.60" y="304.07" font-size="18.50" textLength="16.60" lengthAdjust="spacing">10</tspan><tspan x="102.20" y="298.17" font-size="14.00">8</tspan></text>
<text><tspan x="48.60" y="327.33" font-size="18.50" textLength="19.30" lengthAdjust="spacing">1.0</tspan><tspan> </tspan><tspan x="71.00" y="327.43" font-size="18.70">×</tspan><tspan> </tspan><tspan x="85.60" y="327.33" font-size="18.50" textLength="16.60" lengthAdjust="spacing">10</tspan><tspan x="102.20" y="321.43" font-size="14.00">7</tspan></text>
<text><tspan x="48.60" y="350.20" font-size="18.50" textLength="19.30" lengthAdjust="spacing">1.0</tspan><tspan> </tspan><tspan x="71.00" y="350.30" font-size="18.70">×</tspan><tspan> </tspan><tspan x="85.60" y="350.20" font-size="18.50" textLength="16.60" lengthAdjust="spacing">10</tspan><tspan x="102.20" y="344.30" font-size="14.00">6</tspan></text>
<text x="115.10" y="371.30" font-size="17.20" text-anchor="middle" class="t">0</text>
<text x="156.90" y="371.30" font-size="17.20" text-anchor="middle" class="t">0.1</text>
<text x="198.70" y="371.30" font-size="17.20" text-anchor="middle" class="t">0.2</text>
<text x="240.50" y="371.30" font-size="17.20" text-anchor="middle" class="t">0.3</text>
<text x="282.30" y="371.30" font-size="17.20" text-anchor="middle" class="t">0.4</text>
<text x="324.10" y="371.30" font-size="17.20" text-anchor="middle" class="t">0.5</text>
<text x="365.90" y="371.30" font-size="17.20" text-anchor="middle" class="t">0.6</text>
<text x="407.70" y="371.30" font-size="17.20" text-anchor="middle" class="t">0.7</text>
<text x="449.50" y="371.30" font-size="17.20" text-anchor="middle" class="t">0.8</text>
<text x="491.30" y="371.30" font-size="17.20" text-anchor="middle" class="t">0.9</text>
<text x="533.10" y="371.30" font-size="17.20" text-anchor="middle" class="t">1</text>
<text x="323.20" y="401.60" font-size="17.20" textLength="116.40" lengthAdjust="spacing" text-anchor="middle" class="t">Water Saturation</text>
<g transform="translate(24.4,264) rotate(-90)">
<text><tspan x="0.00" y="0.00" font-size="15.80" textLength="88.20" lengthAdjust="spacing">Forchheimer</tspan><tspan> </tspan><tspan x="95.00" y="0.00" font-size="15.80" textLength="45.40" lengthAdjust="spacing">Coeffi</tspan><tspan x="139.90" y="0.00" font-size="15.80" textLength="35.20" lengthAdjust="spacing">cient,</tspan><tspan> </tspan><tspan x="180.90" y="0.00" font-size="17.50">β</tspan><tspan x="190.40" y="3.60" font-size="12.00">α</tspan></text>
</g>
</svg>
</body></html>
